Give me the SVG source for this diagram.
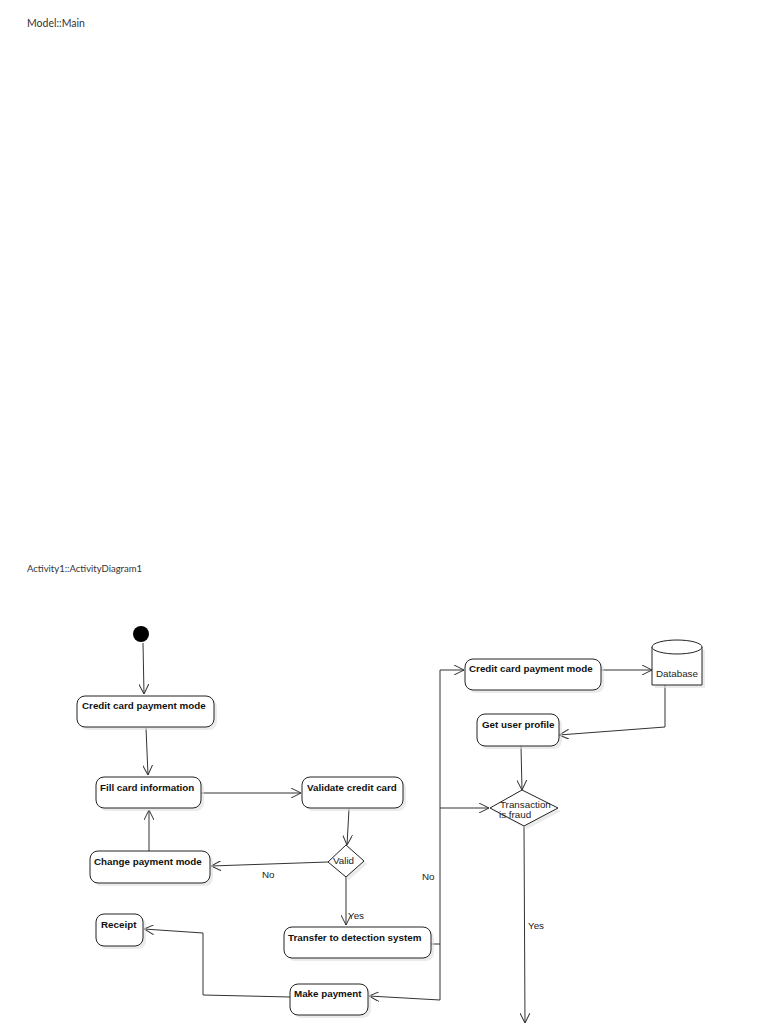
<svg xmlns="http://www.w3.org/2000/svg" width="768" height="1024" viewBox="0 0 768 1024">
<style>
.t{font-family:Lato,"Liberation Sans",Arial,sans-serif;font-size:10.5px;fill:#333}
.b{font-family:"Liberation Sans",Arial,sans-serif;font-size:9.8px;font-weight:bold;fill:#111}
.n{font-family:"Liberation Sans",Arial,sans-serif;font-size:9.8px;fill:#222}
.box{fill:#fff;stroke:#222;stroke-width:1}
.sh{fill:#ddd;opacity:0.6}
.c{fill:none;stroke:#333;stroke-width:1}
</style>
<defs>
<marker id="a" viewBox="0 0 10 10" refX="10" refY="5" markerWidth="10" markerHeight="10" markerUnits="userSpaceOnUse" orient="auto">
<path d="M0,0 L10,5 L0,10" fill="none" stroke="#333" stroke-width="1"/>
</marker>
</defs>
<rect width="768" height="1024" fill="#fff"/>
<text class="t" x="27" y="27">Model::Main</text>
<text class="t" x="27" y="572" style="font-size:9.5px">Activity1::ActivityDiagram1</text>

<g id="connectors">
<path class="c" d="M143,643 L144,694" marker-end="url(#a)"/>
<path class="c" d="M146,728 L148,775" marker-end="url(#a)"/>
<path class="c" d="M201,793 L301,793" marker-end="url(#a)"/>
<path class="c" d="M349,809 L347,845" marker-end="url(#a)"/>
<path class="c" d="M328,862 L211,866" marker-end="url(#a)"/>
<path class="c" d="M149,851 L149,810" marker-end="url(#a)"/>
<path class="c" d="M346,877 L346,925" marker-end="url(#a)"/>
<path class="c" d="M431,944 L440,944"/>
<path class="c" d="M440,1000 L440,670 L464,670" marker-end="url(#a)"/>
<path class="c" d="M440,808 L489,808" marker-end="url(#a)"/>
<path class="c" d="M440,1000 L369,996" marker-end="url(#a)"/>
<path class="c" d="M290,997 L203,995 L203,933 L144,929" marker-end="url(#a)"/>
<path class="c" d="M601,670 L652,670" marker-end="url(#a)"/>
<path class="c" d="M665,685 L665,727 L559,735" marker-end="url(#a)"/>
<path class="c" d="M521,746 L522,790" marker-end="url(#a)"/>
<path class="c" d="M524,826 L525,1023" marker-end="url(#a)"/>
<text class="n" x="262" y="878">No</text>
<text class="n" x="348" y="919">Yes</text>
<text class="n" x="422" y="880">No</text>
<text class="n" x="528" y="929">Yes</text>
</g>

<g id="start"><circle cx="141" cy="634" r="8" fill="#000"/></g>

<g id="ccpm1">
<rect class="sh" x="80" y="699" width="137" height="31" rx="8"/>
<rect class="box" x="77" y="696" width="137" height="31" rx="8"/>
<text class="b" x="82" y="709">Credit card payment mode</text>
</g>
<g id="fill">
<rect class="sh" x="99" y="780" width="105" height="31" rx="8"/>
<rect class="box" x="96" y="777" width="105" height="31" rx="8"/>
<text class="b" x="100" y="791">Fill card information</text>
</g>
<g id="validate">
<rect class="sh" x="305" y="780" width="101" height="31" rx="8"/>
<rect class="box" x="302" y="777" width="101" height="31" rx="8"/>
<text class="b" x="307" y="791">Validate credit card</text>
</g>
<g id="valid">
<polygon points="331,865 349,848 367,864 349,880" class="sh"/>
<polygon points="328,862 346,845 364,861 346,877" class="box"/>
<text class="n" x="333" y="864">Valid</text>
</g>
<g id="change">
<rect class="sh" x="93" y="854" width="120" height="32" rx="8"/>
<rect class="box" x="90" y="851" width="120" height="32" rx="8"/>
<text class="b" x="94" y="865">Change payment mode</text>
</g>
<g id="transfer">
<rect class="sh" x="287" y="930" width="147" height="31" rx="8"/>
<rect class="box" x="284" y="927" width="147" height="31" rx="8"/>
<text class="b" x="288" y="941">Transfer to detection system</text>
</g>
<g id="receipt">
<rect class="sh" x="99" y="917" width="47" height="32" rx="8"/>
<rect class="box" x="96" y="914" width="47" height="32" rx="8"/>
<text class="b" x="101" y="928">Receipt</text>
</g>
<g id="make">
<rect class="sh" x="293" y="987" width="78" height="31" rx="8"/>
<rect class="box" x="290" y="984" width="78" height="31" rx="8"/>
<text class="b" x="294" y="997">Make payment</text>
</g>
<g id="ccpm2">
<rect class="sh" x="468" y="662" width="136" height="31" rx="8"/>
<rect class="box" x="465" y="659" width="136" height="31" rx="8"/>
<text class="b" x="469" y="672">Credit card payment mode</text>
</g>
<g id="database">
<path d="M655,650 L655,688 L705,688 L705,650" class="sh"/>
<path d="M652,647 L652,685 L702,685 L702,647" class="box"/>
<ellipse cx="677" cy="647" rx="25" ry="7" class="box"/>
<text class="n" x="656" y="677">Database</text>
</g>
<g id="profile">
<rect class="sh" x="480" y="717" width="82" height="32" rx="8"/>
<rect class="box" x="477" y="714" width="82" height="32" rx="8"/>
<text class="b" x="482" y="728">Get user profile</text>
</g>
<g id="fraud">
<polygon points="493,811 525,793 561,811 527,829" class="sh"/>
<polygon points="490,808 522,790 558,808 524,826" class="box"/>
<text class="n" x="500" y="808">Transaction</text>
<text class="n" x="499" y="818">is fraud</text>
</g>
</svg>
